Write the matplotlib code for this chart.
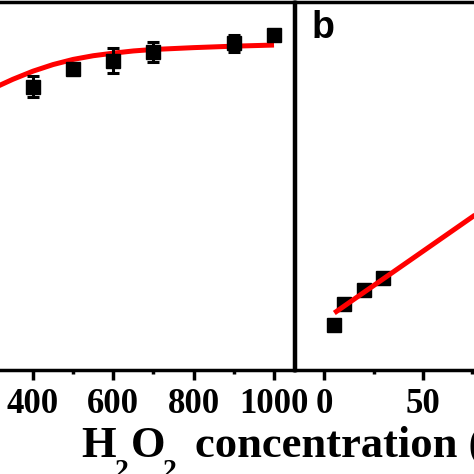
import matplotlib
matplotlib.use("Agg")
import matplotlib.pyplot as plt
from matplotlib.ticker import MultipleLocator

plt.rcParams['font.family'] = ['Liberation Serif', 'DejaVu Serif']
plt.rcParams['font.weight'] = 'bold'

# panel a: saturation curve
conc_a = [400, 500, 600, 700, 900, 1000]
resp_a = [77.0, 81.7, 84.0, 86.5, 88.8, 91.0]
err_a = [2.85, 1.0, 3.4, 2.7, 2.3, 1.0]
fit_x_a = [300, 350, 400, 450, 500, 550, 600, 650, 700, 800, 900, 1000]
fit_y_a = [76.5, 79.0, 81.2, 83.0, 84.4, 85.4, 86.1, 86.7, 87.1, 87.6, 88.0, 88.3]

# panel b: linear range
conc_b = [5, 10, 20, 30]
resp_b = [12.2, 17.9, 21.7, 25.0]
fit_x_b = [5, 80]
fit_y_b = [15.5, 43.4]

W = H = 474.0
fig = plt.figure(figsize=(4.74, 4.74), dpi=100)
fig.patch.set_facecolor('white')

def px(x0, y0, x1, y1):
    # pixel box (top-left origin) -> figure fraction rect
    return [x0 / W, (H - y1) / H, (x1 - x0) / W, (y1 - y0) / H]

axa = fig.add_axes(px(-7.2, 2, 294.1, 370))
axb = fig.add_axes(px(295, 2, 481.8, 370))

for ax in (axa, axb):
    for s in ax.spines.values():
        s.set_linewidth(2.5)
    ax.set_ylim(0, 100)
    ax.set_yticks([])
    ax.tick_params(axis='x', which='major', direction='out', length=7, width=2.5,
                   labelsize=25, pad=6, top=False)
    ax.tick_params(axis='x', which='minor', direction='out', length=3, width=2.5, top=False)

axa.set_xlim(300, 1050)
axa.xaxis.set_major_locator(MultipleLocator(200))
axa.xaxis.set_minor_locator(MultipleLocator(100))
axa.plot(fit_x_a, fit_y_a, color='#ff0000', lw=3.6, zorder=2, solid_capstyle='butt')
axa.errorbar(conc_a, resp_a, yerr=err_a, fmt='s', color='black', ms=10,
             elinewidth=2.2, capsize=4, capthick=2.2, zorder=3)

axb.set_xlim(-15, 80)
axb.xaxis.set_major_locator(MultipleLocator(50))
axb.xaxis.set_minor_locator(MultipleLocator(25))
axb.plot(conc_b, resp_b, 's', color='black', ms=10, zorder=2)
axb.plot(fit_x_b, fit_y_b, color='#ff0000', lw=3.6, zorder=3, solid_capstyle='butt')
axb.text(312 / W, (H - 38) / H, 'b', transform=fig.transFigure, fontsize=27,
         fontweight='bold', family='Liberation Sans', ha='left', va='baseline')

for lab in axa.get_xticklabels() + axb.get_xticklabels():
    lab.set_fontweight('bold')

# x label assembled piecewise so the subscripts sit low like the original
base = (H - 457) / H
sub = (H - 478) / H
fig.text(81 / W, base, 'H', fontsize=32, fontweight='bold', va='baseline')
fig.text(115 / W, sub, '2', fontsize=20, fontweight='bold', va='baseline')
fig.text(131 / W, base, 'O', fontsize=32, fontweight='bold', va='baseline')
fig.text(163 / W, sub, '2', fontsize=20, fontweight='bold', va='baseline')
fig.text(195 / W, base, 'concentration (\u03bcM)', fontsize=32, fontweight='bold', va='baseline')

fig.savefig('out.png', dpi=100, facecolor='white')
